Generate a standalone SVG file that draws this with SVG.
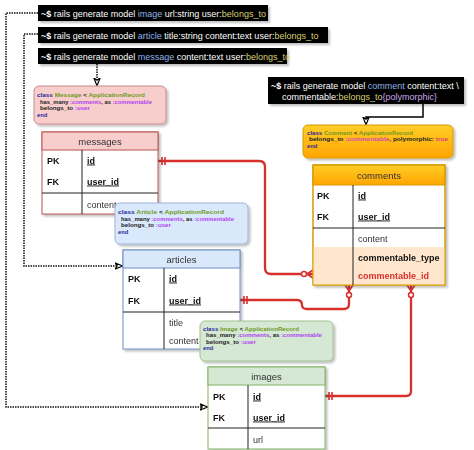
<svg xmlns="http://www.w3.org/2000/svg" width="474" height="450" viewBox="0 0 474 450">
<defs>
<style>
.cmd{font-family:"Liberation Sans",Arial,sans-serif;font-size:9px;fill:#fff}
.kw{fill:#8fb4e8}.yl{fill:#d8d070}.pm{fill:#c9a6f0}
.note{font-family:"Liberation Sans",Arial,sans-serif;font-size:5.8px;font-weight:bold;fill:#222}
.nv{fill:#2a2a9a}.gr{fill:#6f9a22}.pu{fill:#b044f0}.pk{fill:#d845b0}.tr{fill:#e0407a}
.th{font-family:"Liberation Sans",Arial,sans-serif;font-size:9.5px;fill:#333;text-anchor:middle}
.tt{font-family:"Liberation Sans",Arial,sans-serif;font-size:9px;fill:#333}
.b{font-weight:bold;fill:#111}
.u{text-decoration:underline}
.red{fill:#d7302c}
.div{stroke:#222;stroke-width:1}
.dot{fill:none;stroke:#111;stroke-width:1.5;stroke-dasharray:1.5 1}
.rl{fill:none;stroke:#d7302c;stroke-width:2.3}
.rm{fill:none;stroke:#d7302c;stroke-width:1.6}
.rc{fill:#fff;stroke:#d7302c;stroke-width:1.5}
</style>
<filter id="sh" x="-10%" y="-10%" width="130%" height="130%"><feDropShadow dx="2" dy="2" stdDeviation="1" flood-color="#000" flood-opacity="0.25"/></filter>
<linearGradient id="og" x1="0" y1="0" x2="0" y2="1"><stop offset="0" stop-color="#ffcd28"/><stop offset="1" stop-color="#ffa500"/></linearGradient>
<marker id="arr" viewBox="0 0 10 10" refX="9" refY="5" markerWidth="8" markerHeight="8" markerUnits="userSpaceOnUse" orient="auto"><path d="M0,1 L10,5 L0,9 L3,5 z" fill="#fff" stroke="#000" stroke-width="1.5"/></marker>
</defs>
<rect width="474" height="450" fill="#fff"/>

<g id="connectors">
<path class="dot" d="M38 13 H6 V407 H207" marker-end="url(#arr)"/>
<path class="dot" d="M38 34 H24 V266 H122" marker-end="url(#arr)"/>
<path class="dot" d="M97 64 V85" marker-end="url(#arr)"/>
<path d="M423 104 V117 H366 V124" fill="none" stroke="#000" stroke-width="1.5" marker-end="url(#arr)"/>
<path class="rl" d="M158 161 H259 Q265 161 265 167 V268 Q265 274 271 274 H313"/>
<path class="rm" d="M162 157 V165 M165 157 V165 M307 274 L313 270 M307 274 L313 278"/>
<circle class="rc" cx="304" cy="274" r="2.5"/>
<path class="rl" d="M240 300 H297 Q302 300 302 305 Q302 309 307 309 H344 Q349 309 349 304 V285"/>
<path class="rm" d="M244 296 V304 M247 296 V304 M349 291 L345 285 M349 291 L353 285"/>
<circle class="rc" cx="349" cy="295" r="2.5"/>
<path class="rl" d="M325 396 H406 Q411 396 411 391 V285"/>
<path class="rm" d="M329 392 V400 M332 392 V400 M411 291 L407 285 M411 291 L415 285"/>
<circle class="rc" cx="411" cy="295" r="2.5"/>
</g>

<g id="cmd-image">
<rect x="38" y="5" width="230" height="16" fill="#000" filter="url(#sh)"/>
<text class="cmd" x="41" y="16.5"><tspan font-weight="bold">~$</tspan> rails generate model <tspan class="kw">image</tspan> url:string user:<tspan class="yl">belongs_to</tspan></text>
</g>
<g id="cmd-article">
<rect x="38" y="27" width="290" height="16" fill="#000" filter="url(#sh)"/>
<text class="cmd" x="41" y="38.5"><tspan font-weight="bold">~$</tspan> rails generate model <tspan class="kw">article</tspan> title:string content:text user:<tspan class="yl">belongs_to</tspan></text>
</g>
<g id="cmd-message">
<rect x="38" y="48" width="249" height="16" fill="#000" filter="url(#sh)"/>
<text class="cmd" x="41" y="59.5"><tspan font-weight="bold">~$</tspan> rails generate model <tspan class="kw">message</tspan> content:text user:<tspan class="yl">belongs_to</tspan></text>
</g>
<g id="cmd-comment">
<rect x="268" y="77" width="196" height="27" fill="#000" filter="url(#sh)"/>
<text class="cmd" x="271" y="89"><tspan font-weight="bold">~$</tspan> rails generate model <tspan class="kw">comment</tspan> content:text \</text>
<text class="cmd" x="282" y="100">commentable:<tspan class="yl">belongs_to</tspan><tspan class="pm">{polymorphic}</tspan></text>
</g>

<g id="note-message">
<rect x="34" y="86" width="132" height="38" rx="5" fill="#f8cecc" stroke="#c98b8b" filter="url(#sh)"/>
<text class="note" x="37" y="97" textLength="108" lengthAdjust="spacingAndGlyphs"><tspan class="nv">class</tspan> <tspan class="gr">Message</tspan> &lt; <tspan class="gr">ApplicationRecord</tspan></text>
<text class="note" x="40" y="103.5" textLength="112" lengthAdjust="spacingAndGlyphs">has_many <tspan class="pu">:comments</tspan>, as <tspan class="pu">:commentable</tspan></text>
<text class="note" x="40" y="110" textLength="50" lengthAdjust="spacingAndGlyphs">belongs_to <tspan class="pu">:user</tspan></text>
<text class="note nv" x="37" y="116.5">end</text>
</g>

<g id="table-messages" filter="url(#sh)">
<rect x="42" y="132" width="116" height="82" fill="#fff" stroke="#b85450"/>
<rect x="42" y="132" width="116" height="18" fill="#f8cecc" stroke="#b85450"/>
<line class="div" x1="82" y1="150" x2="82" y2="214"/>
<line class="div" x1="42" y1="193" x2="158" y2="193"/>
<text class="th" x="100" y="145">messages</text>
<text class="tt b" x="47" y="163.5">PK</text>
<text class="tt b u" x="87" y="163.5">id</text>
<text class="tt b" x="47" y="184.5">FK</text>
<text class="tt b u" x="87" y="184.5">user_id</text>
<text class="tt" x="87" y="207.5">content</text>
</g>

<g id="note-article">
<rect x="115" y="203" width="133" height="41" rx="5" fill="#dae8fc" stroke="#9db3d6" filter="url(#sh)"/>
<text class="note" x="118" y="214" textLength="106" lengthAdjust="spacingAndGlyphs"><tspan class="nv">class</tspan> <tspan class="gr">Article</tspan> &lt; <tspan class="gr">ApplicationRecord</tspan></text>
<text class="note" x="121" y="220.5" textLength="113" lengthAdjust="spacingAndGlyphs">has_many <tspan class="pu">:comments</tspan>, as <tspan class="pu">:commentable</tspan></text>
<text class="note" x="121" y="227" textLength="50" lengthAdjust="spacingAndGlyphs">belongs_to <tspan class="pu">:user</tspan></text>
<text class="note nv" x="118" y="233.5">end</text>
</g>

<g id="table-articles" filter="url(#sh)">
<rect x="123" y="250" width="117" height="99" fill="#fff" stroke="#6c8ebf"/>
<rect x="123" y="250" width="117" height="18" fill="#dae8fc" stroke="#6c8ebf"/>
<line class="div" x1="164" y1="268" x2="164" y2="349"/>
<line class="div" x1="123" y1="312" x2="240" y2="312"/>
<text class="th" x="181.5" y="263">articles</text>
<text class="tt b" x="128" y="281.5">PK</text>
<text class="tt b u" x="169" y="281.5">id</text>
<text class="tt b" x="128" y="303.5">FK</text>
<text class="tt b u" x="169" y="303.5">user_id</text>
<text class="tt" x="169" y="325.5">title</text>
<text class="tt" x="169" y="343.5">content</text>
</g>

<g id="note-image">
<rect x="200" y="321" width="133" height="40" rx="5" fill="#d5e8d4" stroke="#9fc28f" filter="url(#sh)"/>
<text class="note" x="203" y="330.5" textLength="96" lengthAdjust="spacingAndGlyphs"><tspan class="nv">class</tspan> <tspan class="gr">Image</tspan> &lt; <tspan class="gr">ApplicationRecord</tspan></text>
<text class="note" x="206" y="337" textLength="116" lengthAdjust="spacingAndGlyphs">has_many <tspan class="pu">:comments</tspan>, as <tspan class="pu">:commentable</tspan></text>
<text class="note" x="206" y="343.5" textLength="50" lengthAdjust="spacingAndGlyphs">belongs_to <tspan class="pu">:user</tspan></text>
<text class="note nv" x="203" y="350">end</text>
</g>

<g id="table-images" filter="url(#sh)">
<rect x="208" y="367" width="117" height="82" fill="#fff" stroke="#82b366"/>
<rect x="208" y="367" width="117" height="18" fill="#d5e8d4" stroke="#82b366"/>
<line class="div" x1="248" y1="385" x2="248" y2="449"/>
<line class="div" x1="208" y1="428" x2="325" y2="428"/>
<text class="th" x="266.5" y="380">images</text>
<text class="tt b" x="213" y="399.5">PK</text>
<text class="tt b u" x="253" y="399.5">id</text>
<text class="tt b" x="213" y="420.5">FK</text>
<text class="tt b u" x="253" y="420.5">user_id</text>
<text class="tt" x="253" y="442.5">url</text>
</g>

<g id="note-comment">
<rect x="303" y="125" width="150" height="33" rx="5" fill="url(#og)" stroke="#d79b00" filter="url(#sh)"/>
<text class="note" x="307" y="134.5" textLength="106" lengthAdjust="spacingAndGlyphs"><tspan class="nv">class</tspan> <tspan class="gr">Comment</tspan> &lt; <tspan class="gr">ApplicationRecord</tspan></text>
<text class="note" x="309" y="141.2" textLength="139" lengthAdjust="spacingAndGlyphs">belongs_to <tspan class="pk">:commentable</tspan>, polymorphic: <tspan class="tr">true</tspan></text>
<text class="note nv" x="307" y="148">end</text>
</g>

<g id="table-comments" filter="url(#sh)">
<rect x="313" y="165" width="132" height="120" fill="#fff" stroke="#d79b00"/>
<rect x="313" y="247" width="132" height="38" fill="#ffe6cc"/>
<rect x="313" y="165" width="132" height="20" fill="url(#og)" stroke="#d79b00"/>
<rect x="313" y="165" width="132" height="120" fill="none" stroke="#d79b00"/>
<line class="div" x1="353" y1="185" x2="353" y2="285"/>
<line class="div" x1="313" y1="228" x2="445" y2="228"/>
<text class="th" x="379" y="178.5">comments</text>
<text class="tt b" x="317" y="198.5">PK</text>
<text class="tt b u" x="358" y="198.5">id</text>
<text class="tt b" x="317" y="219.5">FK</text>
<text class="tt b u" x="358" y="219.5">user_id</text>
<text class="tt" x="358" y="241.5">content</text>
<text class="tt b" x="358" y="260.5">commentable_type</text>
<text class="tt b red" x="358" y="278.5">commentable_id</text>
</g>
</svg>
